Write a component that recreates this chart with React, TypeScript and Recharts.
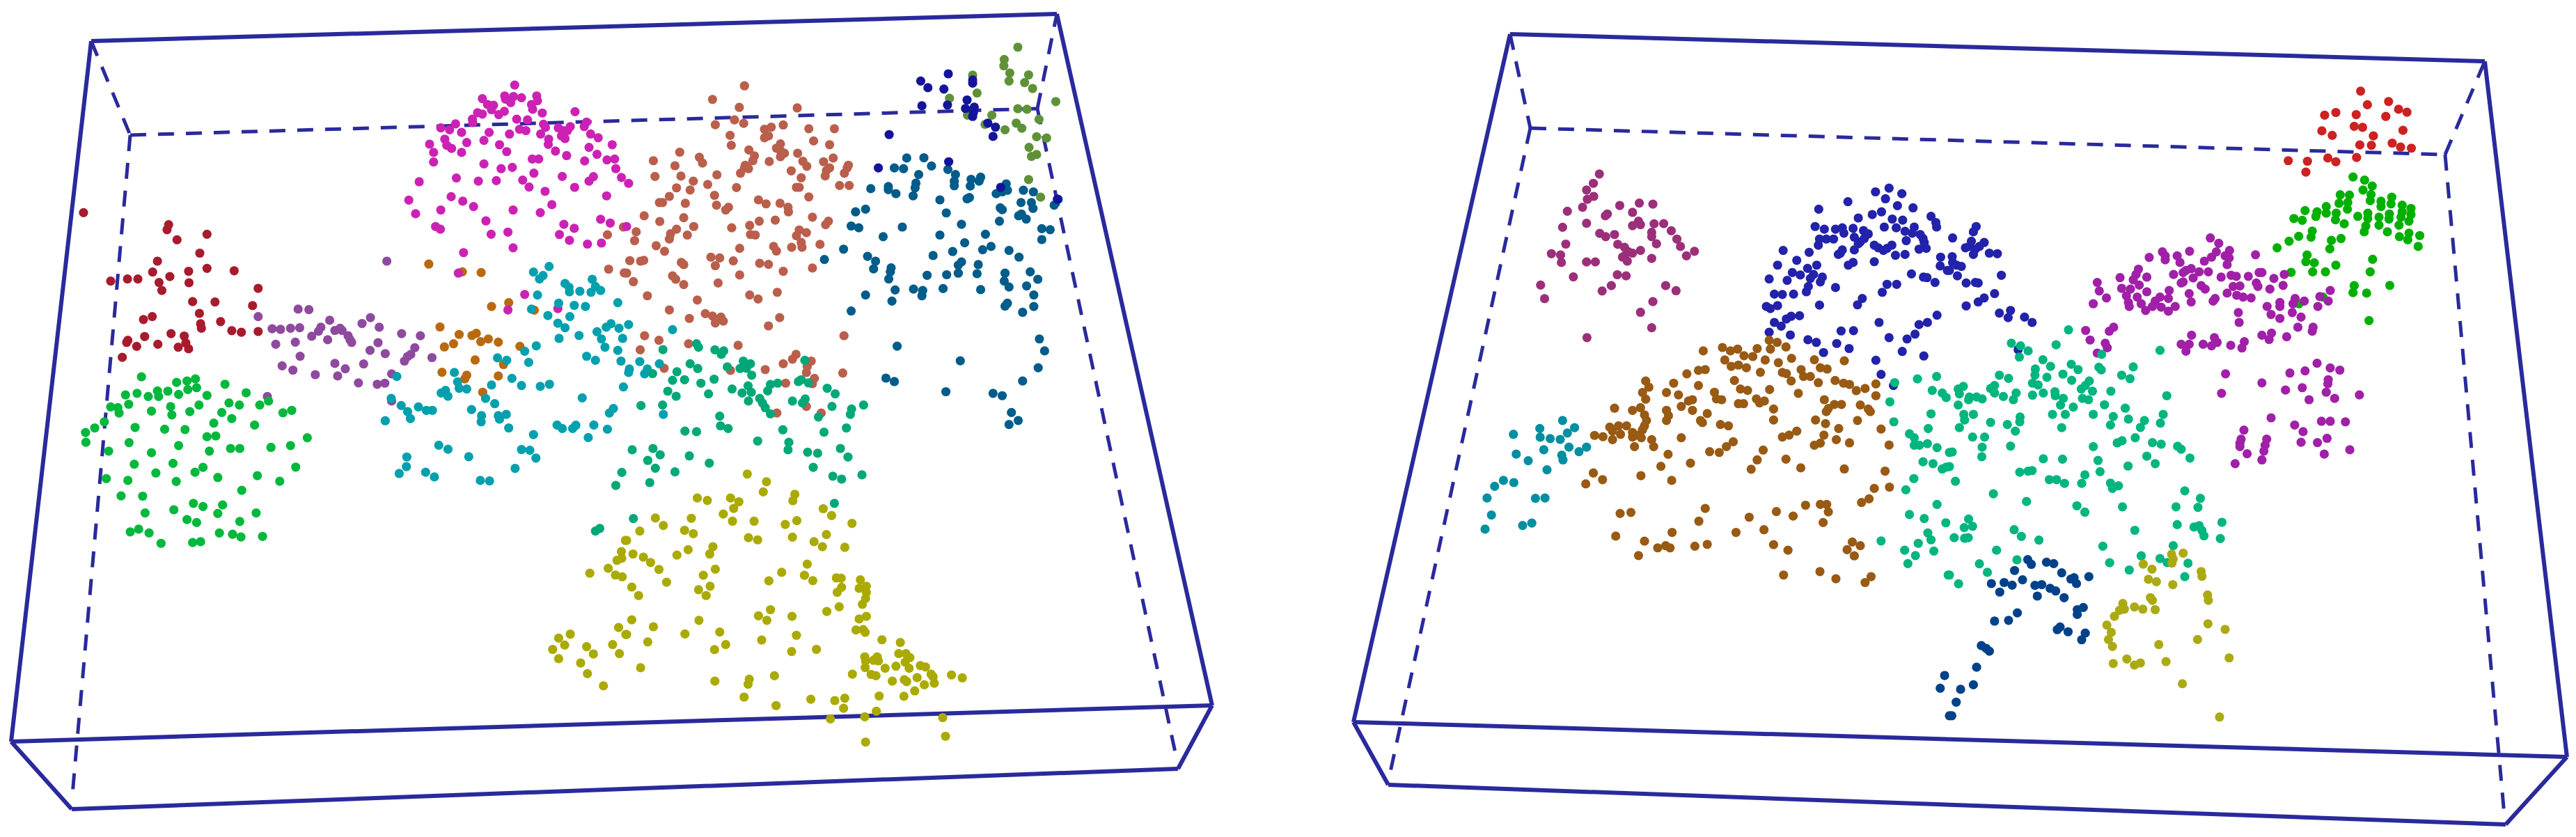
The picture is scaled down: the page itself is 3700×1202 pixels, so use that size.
import { ScatterChart, Scatter, XAxis, YAxis, ReferenceLine } from 'recharts';

type Pair = [number, number];

const fromCrop = (left: number, top: number, pts: Pair[]) =>
  pts.map(([x, y]) => ({ x: left + (x * 900) / 1568, y: top + (y * 600) / 1568 }));

// ---- left box ----
const crimsonA: Pair[] = [[209,798],[422,843],[418,862],[443,900],[518,879],[500,950],[394,980],[382,1021],[472,1018],[518,1007],[586,1016],[425,1038],[277,1055],[319,1047],[345,1047],[398,1060],[473,1061],[405,1090],[646,1082],[482,1132],[538,1133],[632,1147],[499,1176],[381,1188],[359,1199],[552,1207],[502,1215],[504,1232],[580,1241],[604,1247],[646,1244],[428,1252],[362,1263],[461,1261],[320,1277],[317,1285],[465,1287],[342,1300],[395,1292],[446,1303],[472,1309],[306,1341]];
const violetA: Pair[] = [[746,1160],[773,1162],[646,1188],[825,1202],[927,1192],[906,1214],[949,1228],[681,1234],[702,1236],[727,1232],[750,1230],[803,1228],[797,1243],[780,1262],[838,1240],[851,1232],[856,1240],[871,1260],[876,1275],[880,1285],[820,1275],[739,1284],[690,1292],[1005,1252],[1052,1260],[946,1286],[1038,1305],[926,1315],[964,1327],[1028,1330],[1020,1338],[1012,1355],[1081,1342],[751,1337],[838,1364],[910,1366],[864,1384],[706,1373],[733,1389],[789,1406],[845,1411],[980,1403],[897,1437],[944,1442],[963,1438],[669,1488],[968,980],[980,1505]];
const amberA: Pair[] = [[1073,991],[1157,1020],[1204,1023],[1230,1150],[1273,1136],[1337,1164],[1101,1227],[1149,1255],[1181,1259],[1192,1251],[1222,1272],[1203,1282],[1247,1284],[1135,1290],[1112,1302],[1301,1300],[1189,1351],[1260,1368],[1106,1397],[1168,1408],[1163,1422],[1247,1411],[1208,1472]];
const cyanA: Pair[] = [[1374,1000],[1335,1021],[1359,1034],[1350,1047],[1414,1064],[1482,1048],[1424,1078],[1490,1075],[1425,1095],[1451,1093],[1479,1097],[1503,1090],[1345,1107],[1398,1138],[1437,1146],[1465,1150],[1546,1136],[1330,1160],[1371,1184],[1426,1188],[1396,1213],[1414,1230],[1529,1215],[1517,1228],[1549,1232],[1494,1245],[1505,1272],[1558,1270],[1399,1270],[1449,1259],[1342,1298],[1313,1318],[1514,1303],[1546,1315],[1245,1343],[1268,1352],[1323,1360],[1468,1337],[1490,1352],[1554,1355],[1137,1398],[993,1413],[1281,1420],[1145,1433],[1149,1457],[1168,1460],[1115,1465],[1104,1475],[1121,1487],[1230,1445],[1305,1447],[1352,1450],[1375,1442],[1560,1452],[1215,1495],[1238,1515],[1457,1493],[979,1495],[1004,1522],[1047,1527],[1020,1545],[1067,1540],[1082,1540],[1180,1537],[1535,1533],[1525,1550],[1247,1560],[1267,1555],[1205,1560]];
const magentaA: Pair[] = [[1288,319],[1207,370],[1263,360],[1265,372],[1285,362],[1305,367],[1343,360],[1278,385],[1330,392],[1345,378],[1220,392],[1235,395],[1230,412],[1439,419],[1357,424],[1333,410],[1195,423],[1207,428],[1248,430],[1262,418],[1182,447],[1293,447],[1320,450],[1468,458],[1360,466],[1140,465],[1103,480],[1125,487],[1183,460],[1365,478],[1397,480],[1427,475],[1462,475],[1300,485],[1316,490],[1155,497],[1224,497],[1275,503],[1353,503],[1410,490],[1420,490],[1405,510],[1414,520],[1478,503],[1497,517],[1113,522],[1168,535],[1211,527],[1373,522],[1372,542],[1075,541],[1118,545],[1130,557],[1250,543],[1532,543],[1155,572],[1268,569],[1390,567],[1474,553],[1085,572],[1418,584],[1494,579],[1085,608],[1332,597],[1348,597],[1463,604],[1519,600],[1538,597],[1211,615],[1254,633],[1282,628],[1541,633],[1336,650],[1142,668],[1407,662],[1197,680],[1242,678],[1308,676],[1485,663],[1474,680],[1555,666],[1049,682],[1324,702],[1438,703],[1364,718],[1129,738],[1518,735],[1023,751],[1158,755],[1381,768],[1185,775],[1103,788],[1284,788],[1352,798],[1040,802],[1216,829],[1503,823],[1527,837],[1411,842],[1437,857],[1090,850],[1102,860],[1229,879],[1271,871],[1400,880],[1425,902],[1470,916],[1505,912],[1284,930],[1160,948],[1147,1025],[1313,1105],[1271,1163],[1396,1158]];
const magentaB: Pair[] = [[5,688],[0,850]];
const greenA: Pair[] = [[354,1414],[442,1435],[468,1430],[489,1422],[563,1442],[470,1462],[492,1455],[394,1467],[420,1468],[447,1480],[314,1482],[343,1476],[371,1488],[397,1488],[518,1484],[616,1474],[573,1512],[599,1520],[650,1520],[672,1505],[498,1520],[322,1517],[277,1527],[295,1530],[298,1550],[379,1543],[427,1526],[430,1557],[475,1545],[555,1548],[708,1549],[730,1540]];
const greenC: Pair[] = [[261,15],[237,38],[214,55],[338,36],[412,43],[463,44],[535,20],[637,27],[580,3],[215,92],[323,93],[447,104],[518,71],[540,68],[769,75],[727,104],[678,111],[577,115],[600,115],[524,125],[272,125],[379,131],[336,174],[433,171],[508,186],[488,204],[740,185],[390,207],[545,224],[644,217],[266,228],[320,235],[441,239],[700,238],[605,272],[303,293],[357,294],[484,321],[508,333],[557,327],[435,345],[363,357],[545,359],[641,357],[468,382],[492,393],[600,389],[326,428],[347,418],[373,432],[549,432],[582,437],[603,447],[657,445],[403,471],[482,468],[502,465]];
const cyanC: Pair[] = [[964,11],[1027,3],[1204,15],[1250,5],[1273,38],[1335,63],[1394,27],[1407,40],[1433,40],[1441,28],[1486,27],[1520,43],[1472,74],[1098,103],[1121,118],[1173,146],[1018,147],[1017,183],[999,209],[1065,204],[1087,222],[1202,235],[1225,237],[1305,119],[1326,122],[1341,151],[1289,190]];
const seaC: Pair[] = [[1556,205],[1541,254],[1490,425],[1501,415]];
const oliveC: Pair[] = [[1565,460],[1555,502],[1556,527],[1544,535],[1522,565],[1476,583],[1540,590],[1557,597],[1548,787],[1566,813],[1427,812],[1398,827],[1413,853],[1383,869],[1398,904],[1468,859],[1485,886],[1533,851],[1550,885],[1453,920],[1470,960],[1510,1006]];
const navyB: Pair[] = [[805,277],[736,304],[866,300],[866,312],[754,329],[794,334],[852,375],[739,397],[803,394],[848,407],[870,402],[868,422],[866,437],[904,462],[923,477],[917,512],[657,505],[806,607],[630,630],[936,703],[1078,748]];
const mossB: Pair[] = [[979,177],[945,223],[944,247],[866,282],[959,274],[1006,281],[957,304],[996,310],[1016,332],[877,349],[808,369],[1074,381],[979,408],[1002,410],[914,432],[853,432],[1032,448],[897,467],[975,462],[989,481],[947,487],[1026,513],[1051,518],[1007,553],[1026,580],[1013,587],[1006,674],[1036,740]];
const oceanB: Pair[] = [[701,593],[744,592],[763,623],[670,630],[693,633],[804,636],[731,655],[823,655],[862,673],[886,665],[882,680],[820,680],[820,697],[724,687],[722,705],[860,698],[611,708],[655,700],[655,712],[674,727],[717,735],[950,690],[953,714],[993,714],[1018,720],[925,727],[940,720],[858,741],[852,746],[784,750],[1080,748],[987,760],[1013,760],[1017,782],[1070,770],[935,780],[940,787],[598,785],[573,795],[800,799],[988,803],[981,810],[1000,822],[933,830],[562,848],[581,855],[838,842],[690,852],[1039,858],[1060,862],[642,888],[784,882],[898,879],[1039,899],[846,911],[912,925],[891,937],[543,935],[816,944],[957,940],[767,959],[982,965],[603,962],[623,980],[495,974],[838,983],[830,995],[880,993],[618,1009],[662,1005],[660,1020],[830,1025],[877,1027],[947,1025],[1010,1020],[752,1033],[801,1031],[656,1047],[945,1055],[1029,1048],[957,1077],[1001,1073],[672,1088],[718,1085],[741,1090],[739,1110],[792,1083],[886,1087],[598,1107],[1019,1107],[664,1130],[953,1138],[947,1149],[1019,1150],[991,1172],[562,1167],[1033,1272],[677,1299],[1046,1317],[835,1354],[1030,1380],[649,1419],[670,1432],[991,1430],[799,1470],[917,1476],[940,1485],[963,1548]];
const oceanD: Pair[] = [[957,25],[980,10]];
const clayA: Pair[] = [[1560,852],[1520,881],[1523,1010],[1562,1024]];
const clayB: Pair[] = [[295,322],[215,373],[282,403],[427,405],[270,450],[222,468],[293,463],[392,469],[345,485],[362,477],[456,483],[520,483],[259,508],[345,517],[355,510],[468,529],[508,543],[262,545],[385,540],[375,556],[133,571],[306,563],[385,565],[395,575],[428,575],[385,588],[320,585],[316,603],[182,590],[67,603],[190,612],[517,593],[357,606],[441,605],[493,607],[121,622],[297,620],[295,630],[305,633],[451,624],[555,620],[508,630],[552,630],[412,641],[500,640],[497,660],[545,650],[285,650],[71,662],[136,661],[226,656],[437,667],[167,680],[203,692],[533,696],[557,696],[125,705],[275,704],[425,703],[432,703],[159,713],[220,733],[107,737],[456,739],[330,750],[82,760],[90,760],[147,763],[349,765],[384,763],[225,770],[255,778],[248,788],[404,778],[405,795],[44,810],[143,817],[83,831],[465,815],[332,830],[372,826],[505,830],[498,843],[168,850],[263,855],[308,846],[125,860],[432,863],[24,870],[450,873],[110,877],[310,880],[322,882],[425,885],[107,897],[152,882],[20,903],[437,910],[484,917],[74,922],[283,932],[368,925],[413,928],[439,928],[375,942],[95,943],[211,965],[233,968],[267,979],[8,978],[35,980],[43,977],[137,985],[143,993],[333,988],[355,992],[222,997],[465,1006],[392,1018],[283,1032],[115,1035],[123,1048],[17,1057],[229,1062],[143,1068],[0,1025],[377,1097],[52,1110],[308,1107],[329,1122],[177,1126],[107,1163],[197,1177],[215,1186],[236,1190],[242,1205],[222,1212],[157,1195],[383,1192],[355,1223],[544,1260],[45,1260],[81,1277],[155,1290],[279,1296],[34,1313],[424,1330],[415,1348],[392,1365],[462,1355],[452,1375],[347,1387],[94,1382],[260,1390],[450,1398],[541,1400],[470,1420],[398,1438],[465,1440],[450,1525],[487,1550],[376,1550]];
const cyanB: Pair[] = [[5,1218],[115,1237],[33,1357],[82,1365],[7,1385],[5,1398],[52,1385],[45,1403],[92,1555]];
const seaB: Pair[] = [[175,1290],[180,1303],[91,1312],[221,1313],[243,1317],[237,1330],[292,1355],[310,1365],[159,1365],[446,1352],[178,1383],[252,1377],[284,1383],[300,1382],[126,1395],[313,1408],[65,1402],[115,1427],[145,1425],[219,1423],[186,1438],[378,1438],[360,1443],[430,1432],[437,1425],[455,1437],[304,1448],[264,1460],[502,1457],[103,1468],[353,1467],[289,1475],[312,1472],[205,1478],[522,1478],[124,1487],[333,1495],[305,1505],[415,1505],[447,1497],[440,1512],[340,1512],[347,1530],[593,1520],[36,1522],[90,1520],[514,1525],[563,1535],[560,1555],[360,1553],[233,1562],[480,1565]];
const seaD: Pair[] = [[146,50],[175,52],[235,30],[254,40],[391,45],[494,54],[550,38],[328,87],[406,92],[404,120],[14,120],[66,115],[84,139],[157,143],[535,115],[453,129],[478,133],[554,147],[53,160],[207,170],[72,189],[121,203],[467,186],[516,219],[538,230],[589,214],[58,243],[520,321],[17,378]];
const oliveD: Pair[] = [[302,211],[350,240],[342,278],[421,287],[416,311],[177,301],[202,310],[260,301],[281,315],[268,340],[492,341],[242,361],[513,367],[72,376],[162,377],[92,404],[265,388],[319,388],[397,400],[426,386],[564,396],[33,425],[145,422],[167,435],[305,450],[328,458],[415,448],[500,438],[469,465],[0,460],[216,484],[490,484],[546,486],[154,495],[208,511],[126,515],[16,511],[42,523],[60,543],[81,569],[222,568],[452,549],[192,591],[388,580],[445,591],[356,612],[466,611],[100,617],[525,601],[537,602],[585,608],[209,632],[600,632],[13,635],[538,636],[582,640],[180,645],[527,655],[600,655],[30,667],[199,667],[598,678],[590,700],[532,709],[360,720],[501,727],[330,743],[414,745],[600,745],[582,755],[351,760],[13,758],[181,760],[67,784],[574,796],[592,795],[597,805],[233,804],[146,811],[0,813],[425,816],[338,834],[639,833],[685,843],[53,841],[248,851],[220,870],[413,877],[475,869],[681,885],[699,885],[709,900],[596,897],[627,897],[598,912],[618,910],[630,912],[697,917],[735,930],[748,935],[35,938],[597,937],[647,940],[674,932],[707,940],[565,962],[612,963],[624,968],[762,962],[767,972],[813,965],[840,976],[370,968],[727,975],[307,981],[304,1000],[221,988],[665,988],[695,983],[701,990],[770,996],[745,1002],[721,1025],[632,1044],[694,1045],[294,1048],[546,1052],[461,1056],[521,1061],[374,1080],[543,1090],[625,1101],[596,1122],[510,1130],[791,1125],[798,1195],[598,1217]];

// ---- right box ----
const plumE: Pair[] = [[692,653],[677,688],[660,713],[678,737],[662,748],[650,778],[612,793],[743,771],[792,762],[826,766],[775,797],[712,803],[707,810],[660,838],[600,853],[790,830],[775,847],[795,843],[829,840],[853,839],[872,866],[693,876],[730,880],[708,888],[823,872],[823,888],[886,897],[608,916],[738,917],[835,915],[895,925],[755,928],[930,943],[910,960],[572,952],[595,957],[795,940],[765,945],[775,950],[755,960],[750,965],[597,985],[660,983],[682,983],[762,980],[823,970],[627,1039],[737,1031],[759,1035],[545,1070],[722,1072],[699,1092],[858,1072],[884,1091],[555,1121],[826,1132],[795,1172],[823,1230],[661,1267]];
const blueE: Pair[] = [[1417,706],[1383,720],[1449,727],[1314,757],[1408,746],[1241,785],[1438,772],[1477,780],[1375,805],[1398,795],[1340,818],[1522,812],[1425,822],[1451,826],[1534,835],[1232,850],[1255,860],[1283,860],[1300,855],[1327,857],[1405,852],[1435,855],[1480,852],[1536,852],[1304,875],[1353,865],[1365,878],[1457,868],[1475,875],[1495,880],[1243,897],[1260,897],[1278,897],[1330,890],[1355,895],[1345,908],[1502,895],[1460,903],[1505,910],[1380,920],[1240,920],[1340,915],[1424,920],[1390,930],[1412,932],[1403,940],[1492,935],[1510,932],[1330,938],[1300,938],[1295,950],[1290,955],[1152,940],[1217,947],[1433,958],[1457,955],[1380,982],[1546,965],[1186,977],[1327,985],[1315,995],[1138,995],[1236,995],[1545,998],[1563,1015],[1213,1007],[1175,1023],[1195,1032],[1228,1030],[1473,1028],[1503,1040],[1512,1042],[1532,1060],[1117,1047],[1162,1052],[1220,1045],[1250,1040],[1245,1058],[1412,1067],[1436,1067],[1215,1075],[1283,1079],[1400,1097],[1210,1095],[1130,1104],[1150,1105],[1178,1104],[1350,1120],[1338,1144],[1243,1145],[1110,1150],[1138,1147],[1120,1158],[1193,1185],[1172,1187],[1160,1197],[1537,1183],[1130,1210],[1392,1210],[1147,1224],[1513,1210],[1492,1218],[1297,1242],[1328,1241],[1117,1247],[1170,1257],[1482,1254],[1417,1267],[1462,1272],[1214,1275],[1235,1285],[1286,1289],[1317,1308],[1253,1323],[1450,1319],[1504,1336],[1384,1352],[1397,1405],[1428,1447]];
const blueF: Pair[] = [[67,850],[60,870],[8,893],[55,905],[87,910],[40,930],[50,925],[65,935],[75,925],[60,955],[100,950],[120,952],[7,963],[8,985],[18,995],[30,1000],[0,1015],[20,1035],[130,1033],[42,1062],[65,1060],[72,1062],[113,1102],[87,1118],[72,1133],[42,1148],[125,1175],[153,1165],[147,1192],[188,1190],[207,1210],[172,1312]];
const brownE: Pair[] = [[1117,1277],[1137,1285],[1159,1302],[952,1317],[1000,1304],[1020,1317],[1038,1310],[1087,1308],[1120,1310],[1054,1335],[1076,1338],[1107,1351],[1006,1351],[1173,1345],[1140,1361],[1230,1350],[1305,1354],[1022,1375],[1040,1370],[1060,1380],[1245,1380],[1262,1385],[940,1390],[957,1387],[911,1403],[1095,1397],[1197,1387],[1150,1398],[1160,1402],[1203,1413],[1220,1413],[1030,1428],[1172,1430],[1240,1436],[1282,1428],[1303,1438],[1318,1443],[1384,1441],[808,1430],[878,1438],[816,1453],[940,1447],[1045,1460],[1063,1465],[1118,1462],[1357,1458],[1335,1466],[800,1473],[860,1473],[890,1482],[980,1472],[1190,1476],[1384,1485],[808,1498],[985,1497],[998,1500],[925,1500],[915,1505],[1085,1497],[1105,1505],[1255,1500],[1093,1512],[1040,1515],[1053,1515],[897,1525],[1280,1518],[1298,1518],[1345,1520],[730,1532],[795,1530],[775,1540],[925,1540],[860,1540],[1128,1535],[1265,1533],[1365,1535],[1370,1545],[962,1552],[1260,1545],[805,1557],[865,1560]];
const brownG: Pair[] = [[810,10],[860,10],[945,10],[950,18],[1128,8],[1233,8],[1258,22],[1338,10],[805,30],[995,25],[1015,30],[718,35],[740,30],[760,30],[800,45],[1291,40],[1397,42],[725,50],[745,62],[775,55],[785,65],[1186,50],[680,66],[701,71],[725,82],[775,72],[797,75],[823,82],[897,75],[1150,72],[1167,65],[1254,65],[1285,82],[1027,90],[1318,94],[1230,103],[1245,95],[780,108],[828,108],[1417,102],[1010,108],[968,127],[992,130],[1102,121],[864,137],[1087,158],[1159,155],[920,170],[846,182],[1072,193],[1196,188],[1305,192],[1407,200],[677,207],[796,217],[700,232],[873,235],[658,248],[1380,265],[1418,260],[1367,304],[1348,318],[1208,328],[1245,325],[1261,325],[957,340],[744,359],[771,355],[1135,352],[1265,353],[1177,369],[1067,373],[941,388],[1252,393],[1104,420],[874,430],[1034,430],[733,444],[805,463],[1325,466],[1128,476],[962,475],[858,480],[838,488],[869,488],[931,482],[1345,480],[1164,497],[1312,495],[790,517],[1330,518],[1153,590],[1244,577],[1284,604],[1372,596],[1357,618]];
const tealG: Pair[] = [[600,10],[543,40],[630,37],[477,62],[612,57],[544,73],[569,78],[594,81],[616,110],[660,110],[553,120],[641,127],[484,136],[598,140],[601,158],[514,161],[561,195],[452,235],[478,243],[430,257],[411,301],[532,302],[556,301],[422,365],[523,395],[500,404],[406,418]];
const mintE: Pair[] = [[1431,1436],[1488,1422],[1536,1413],[1525,1465],[1550,1475],[1560,1492],[1419,1508],[1522,1553]];
const mintG: Pair[] = [[1429,15],[1515,40],[1468,60],[1480,75],[1513,97],[1480,103],[1493,103],[1537,112],[1568,130],[1502,165],[1527,172],[1550,192],[1560,185],[1479,228],[1459,270],[1537,325],[1468,363],[1505,378],[1559,394],[1514,432],[1522,458],[1397,462],[1490,471],[1456,497],[1529,500],[1483,517],[1464,547],[1565,590]];
const mintF: Pair[] = [[298,1238],[155,1288],[178,1298],[267,1294],[197,1317],[527,1315],[175,1340],[381,1330],[234,1350],[253,1375],[305,1367],[322,1387],[374,1378],[380,1388],[460,1377],[215,1385],[125,1408],[148,1420],[214,1408],[244,1416],[284,1404],[431,1408],[452,1421],[306,1427],[350,1430],[208,1438],[222,1445],[340,1447],[35,1450],[22,1460],[113,1447],[103,1458],[330,1460],[404,1468],[264,1470],[358,1468],[544,1485],[25,1478],[113,1475],[235,1475],[208,1483],[50,1490],[68,1490],[167,1475],[135,1488],[265,1485],[160,1500],[82,1497],[285,1495],[333,1495],[348,1500],[48,1500],[22,1520],[388,1519],[278,1520],[310,1528],[440,1532],[258,1555],[290,1555],[360,1555],[36,1555],[60,1555],[410,1563],[535,1555],[177,1565]];
const mintH: Pair[] = [[38,8],[103,17],[145,25],[176,15],[165,50],[25,37],[281,37],[403,27],[478,36],[488,10],[528,20],[448,5],[58,72],[88,72],[465,75],[432,86],[420,94],[82,110],[153,106],[360,108],[508,93],[530,99],[571,107],[580,118],[7,128],[81,146],[494,144],[235,154],[283,155],[372,160],[602,151],[515,172],[447,181],[0,183],[176,204],[197,200],[207,198],[377,202],[339,214],[250,232],[268,232],[288,246],[331,246],[403,245],[423,255],[408,265],[15,238],[110,285],[589,274],[628,302],[193,314],[319,330],[339,354],[433,334],[567,334],[622,336],[48,380],[682,392],[570,401],[612,410],[625,405],[632,423],[58,407],[37,412],[162,420],[464,422],[637,443],[180,445],[12,450],[38,452],[47,450],[678,453],[224,459],[384,482],[560,480],[118,497],[480,518],[527,528],[169,533],[75,548],[401,544],[545,543],[597,546],[450,571],[95,580],[0,590],[589,596],[23,623]];
const orchidF: Pair[] = [[653,893],[674,913],[601,943],[701,940],[533,945],[540,960],[570,960],[766,956],[668,945],[656,965],[500,966],[690,960],[540,975],[700,968],[638,980],[577,985],[695,993],[473,1010],[605,1008],[592,1015],[625,1020],[648,1020],[561,1030],[585,1023],[467,1030],[494,1040],[427,1042],[460,1050],[680,1040],[705,1033],[718,1037],[748,1037],[775,1023],[782,1023],[838,1030],[812,1045],[370,1060],[585,1058],[610,1043],[475,1070],[580,1062],[630,1072],[710,1075],[727,1073],[768,1062],[772,1075],[835,1071],[431,1082],[453,1085],[640,1085],[375,1092],[494,1095],[550,1090],[802,1085],[953,1090],[443,1110],[470,1115],[695,1100],[600,1102],[719,1108],[735,1115],[755,1118],[393,1118],[527,1115],[548,1120],[360,1140],[448,1135],[515,1130],[605,1133],[665,1120],[660,1130],[927,1113],[865,1120],[888,1130],[948,1130],[827,1135],[860,1140],[450,1150],[480,1140],[508,1150],[530,1153],[565,1150],[795,1150],[827,1150],[922,1150],[491,1165],[548,1168],[723,1173],[858,1173],[805,1180],[880,1190],[827,1195],[725,1210],[872,1228],[411,1228],[910,1228],[341,1240],[400,1243],[908,1243],[606,1258],[782,1258],[806,1250],[352,1276],[800,1274],[844,1264],[663,1267],[390,1288],[395,1305],[580,1292],[600,1292],[635,1292],[670,1285],[656,1298],[738,1282],[704,1296],[592,1318],[732,1306],[370,1325],[920,1363],[852,1400],[890,1392],[953,1381],[977,1389],[691,1403],[948,1425],[782,1437],[947,1440],[883,1455],[841,1464],[681,1476],[943,1472],[1026,1482],[900,1500],[964,1495]];
const orchidH: Pair[] = [[805,0],[864,27],[931,13],[953,13],[991,15],[885,52],[737,46],[730,80],[794,80],[945,77],[727,95],[790,103],[727,108],[880,92],[921,93],[787,125],[745,135],[938,136],[1002,120],[782,158],[715,172]];
const redF: Pair[] = [[1029,342],[1099,381],[1046,393],[1124,410],[1145,421],[939,432],[967,422],[1018,430],[1092,437],[1013,474],[1034,478],[1135,489],[932,491],[958,508],[1061,510],[1027,544],[1056,545],[1108,537],[1129,552],[1156,556],[947,593],[1019,591],[848,603],[896,605],[967,607],[892,646]];
const limeF: Pair[] = [[1010,664],[1039,676],[1058,698],[1035,713],[978,731],[1001,732],[1055,730],[1107,740],[1053,753],[1080,755],[975,763],[997,760],[943,775],[1105,765],[1133,770],[1155,782],[890,790],[1080,775],[920,795],[943,800],[968,800],[996,785],[1047,800],[1022,812],[1101,803],[1133,795],[1155,805],[917,812],[862,820],[883,827],[966,825],[1075,815],[1047,820],[1100,822],[1130,815],[988,840],[1042,848],[1075,845],[1150,830],[1125,845],[1038,870],[1096,870],[908,867],[1177,884],[874,887],[905,890],[1126,888],[1150,875],[980,895],[850,905],[956,902],[1147,900],[820,930],[1173,925],[952,934],[895,957],[1059,973],[892,982],[913,986],[967,995],[909,1020],[941,1020],[855,1022],[1053,1020],[1102,1071],[1013,1072],[1010,1098],[1044,1100],[1050,1203],[935,1115],[875,1140]];
const indigoG: Pair[] = [[1556,967],[1545,1015],[1568,1118]];
const indigoH: Pair[] = [[196,532],[205,550],[243,542],[261,547],[163,573],[281,582],[349,596],[183,608],[137,618],[304,605],[312,600],[105,622],[157,628],[214,629],[231,626],[318,622],[252,640],[266,650],[126,654],[220,669],[287,675],[335,712],[320,720],[320,738],[170,732],[113,763],[148,760],[277,785],[270,795],[297,803],[340,808],[331,833],[80,855],[92,865],[100,876],[68,936],[60,1002],[28,1019],[17,1067],[6,1118]];
const pearH: Pair[] = [[556,512],[585,508],[560,530],[557,545],[485,549],[507,568],[630,577],[632,595],[498,606],[518,615],[559,626],[646,665],[648,685],[503,675],[508,685],[434,697],[463,710],[484,718],[515,720],[438,718],[426,722],[413,745],[394,778],[647,773],[690,794],[405,805],[398,832],[621,832],[524,851],[408,858],[700,901],[444,905],[410,922],[478,920],[463,928],[542,915],[583,998],[676,1123]];

const clusters = [
  { name: 'crimson', color: '#A71B2D', data: fromCrop(0, 0, crimsonA) },
  { name: 'violet', color: '#8E4A9E', data: fromCrop(0, 0, violetA) },
  { name: 'amber', color: '#B9690F', data: fromCrop(0, 0, amberA) },
  { name: 'clay', color: '#B95F4C', data: [...fromCrop(0, 0, clayA), ...fromCrop(900, 0, clayB)] },
  { name: 'magenta', color: '#CC22B4', data: [...fromCrop(0, 0, magentaA), ...fromCrop(900, 0, magentaB)] },
  { name: 'green', color: '#00B83C', data: [...fromCrop(0, 0, greenA), ...fromCrop(0, 600, greenC)] },
  { name: 'cyan', color: '#00A0AE', data: [...fromCrop(0, 0, cyanA), ...fromCrop(0, 600, cyanC), ...fromCrop(900, 0, cyanB)] },
  { name: 'sea', color: '#00A878', data: [...fromCrop(0, 600, seaC), ...fromCrop(900, 0, seaB), ...fromCrop(900, 600, seaD)] },
  { name: 'olive', color: '#AAAA00', data: [...fromCrop(0, 600, oliveC), ...fromCrop(900, 600, oliveD)] },
  { name: 'moss', color: '#5F9238', data: fromCrop(900, 0, mossB) },
  { name: 'ocean', color: '#005C8A', data: [...fromCrop(900, 0, oceanB), ...fromCrop(900, 600, oceanD)] },
  { name: 'navy', color: '#14149A', data: fromCrop(900, 0, navyB) },
  { name: 'plum', color: '#9C2F7A', data: fromCrop(1900, 0, plumE) },
  { name: 'blue', color: '#2222AA', data: [...fromCrop(1900, 0, blueE), ...fromCrop(2800, 0, blueF)] },
  { name: 'brown', color: '#995A14', data: [...fromCrop(1900, 0, brownE), ...fromCrop(1900, 600, brownG)] },
  { name: 'teal', color: '#008FA0', data: fromCrop(1900, 600, tealG) },
  { name: 'lime', color: '#00B000', data: fromCrop(2800, 0, limeF) },
  { name: 'orchid', color: '#A020A8', data: [...fromCrop(2800, 0, orchidF), ...fromCrop(2800, 600, orchidH)] },
  { name: 'mint', color: '#00B580', data: [...fromCrop(1900, 0, mintE), ...fromCrop(1900, 600, mintG), ...fromCrop(2800, 0, mintF), ...fromCrop(2800, 600, mintH)] },
  { name: 'red', color: '#CC2222', data: fromCrop(2800, 0, redF) },
  { name: 'indigo', color: '#00428A', data: [...fromCrop(1900, 600, indigoG), ...fromCrop(2800, 600, indigoH)] },
  { name: 'pear', color: '#ABAA14', data: fromCrop(2800, 600, pearH) },
];

// box corners, [x, y] on the page
const leftSolid: Pair[][] = [
  [[131, 59], [1518, 20]], [[131, 59], [16, 1065]], [[1518, 20], [1741, 1013]], [[16, 1065], [1741, 1013]],
  [[16, 1065], [103, 1162]], [[103, 1162], [1692, 1104]], [[1692, 1104], [1741, 1013]],
];
const leftDashed: Pair[][] = [
  [[131, 59], [187, 194]], [[187, 194], [1490, 156]], [[1490, 156], [1518, 20]],
  [[187, 194], [104, 1141]], [[1490, 156], [1689, 1085]],
];
const rightSolid: Pair[][] = [
  [[2169, 49], [3569, 88]], [[2169, 49], [1944, 1037]], [[3569, 88], [3687, 1087]], [[1944, 1037], [3687, 1087]],
  [[1944, 1037], [1994, 1127]], [[1994, 1127], [3599, 1184]], [[3599, 1184], [3687, 1087]],
];
const rightDashed: Pair[][] = [
  [[2169, 49], [2198, 184]], [[2198, 184], [3512, 222]], [[3512, 222], [3569, 88]],
  [[2198, 184], [1996, 1113]], [[3512, 222], [3597, 1170]],
];

const LINE_COLOR = '#2A2A9C';

export default function App() {
  return (
    <div style={{ position: 'absolute', left: 0, top: 0, background: '#fff' }}>
      <ScatterChart width={3700} height={1202} margin={{ top: 0, right: 0, bottom: 0, left: 0 }}>
        <XAxis type="number" dataKey="x" domain={[0, 3700]} hide />
        <YAxis type="number" dataKey="y" domain={[0, 1202]} reversed hide />
        {clusters.map(c => (
          <Scatter
            key={c.name}
            name={c.name}
            data={c.data}
            fill={c.color}
            isAnimationActive={false}
            shape={(p: any) => <circle cx={p.cx} cy={p.cy} r={6.6} fill={c.color} />}
          />
        ))}
        {[...leftSolid, ...rightSolid].map((edge, i) => (
          <ReferenceLine
            key={`solid-${i}`}
            segment={edge.map(([x, y]) => ({ x, y }))}
            stroke={LINE_COLOR}
            strokeWidth={6}
          />
        ))}
        {[...leftDashed, ...rightDashed].map((edge, i) => (
          <ReferenceLine
            key={`dashed-${i}`}
            segment={edge.map(([x, y]) => ({ x, y }))}
            stroke={LINE_COLOR}
            strokeWidth={5}
            strokeDasharray="23 17"
          />
        ))}
      </ScatterChart>
    </div>
  );
}
